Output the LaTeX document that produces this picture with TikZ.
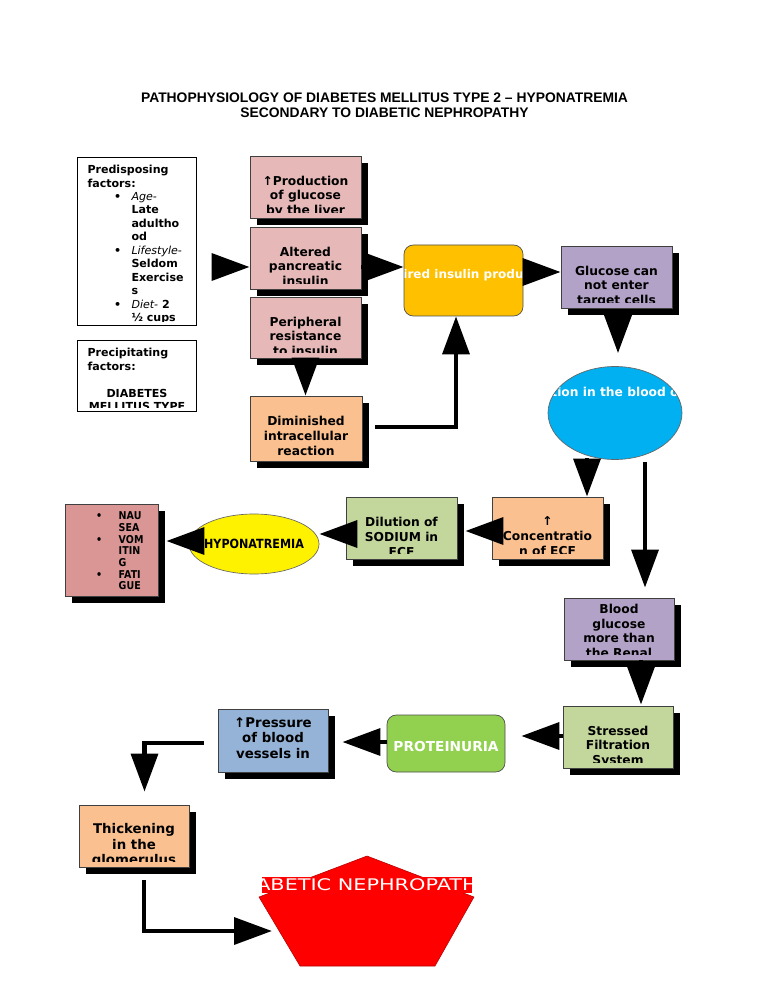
\documentclass[tikz,border=0pt]{standalone}
\usepackage{fontspec}
\setmainfont{DejaVu Sans}
\newfontfamily\titlefont{Liberation Sans}
\newfontfamily\narrowfont{DejaVu Sans}[FakeStretch=0.88]
\newfontfamily\widefont{DejaVu Sans}[FakeStretch=1.3]
\usetikzlibrary{arrows.meta, positioning, calc, shadows, shapes.geometric}

\definecolor{pinkbox}{HTML}{E6B9B8}
\definecolor{rosebox}{HTML}{DA9694}
\definecolor{peachbox}{HTML}{FAC090}
\definecolor{lilacbox}{HTML}{B3A2C7}
\definecolor{olivebox}{HTML}{C3D69B}
\definecolor{bluebox}{HTML}{95B3D7}
\definecolor{amber}{HTML}{FFC000}
\definecolor{skyblue}{HTML}{00B0F0}
\definecolor{limegreen}{HTML}{92D050}

\newcommand{\boxfnt}{\bfseries\fontsize{9.2}{11}\selectfont}
\newcommand{\bigboxfnt}{\bfseries\fontsize{10}{11.6}\selectfont}
\newcommand{\listfnt}{\bfseries\fontsize{8.3}{10.1}\selectfont}

\tikzset{
    plainbox/.style={rectangle, draw=black, line width=0.75pt, inner sep=0pt},
    flowbox/.style={rectangle, draw=black!75, line width=0.6pt, inner sep=0pt,
        minimum width=83.25pt, minimum height=46.5pt,
        drop shadow={shadow xshift=5.6pt, shadow yshift=-5.6pt, opacity=1, fill=black}},
    inlabel/.style={rectangle, inner sep=0pt, minimum width=0pt, minimum height=0pt},
    % text is cut a little above the lower border, as in a text frame
    toptext/.style n args={3}{path picture={
        \clip ([yshift=4pt]path picture bounding box.south west) rectangle (path picture bounding box.north east);
        \node[inlabel, align=center, anchor=north, font=#3] at ([yshift=#1]path picture bounding box.north) {#2};}},
    midtext/.style 2 args={path picture={\node[inlabel, align=center, font=\boxfnt]
        at ([yshift=#1]path picture bounding box.center) {#2};}},
    lefttext/.style n args={3}{path picture={
        \clip ([yshift=3pt]path picture bounding box.south west) rectangle (path picture bounding box.north east);
        \node[inlabel, align=left, anchor=north west, font=#3] at ([shift={#1}]path picture bounding box.north west) {#2};}},
    bigarrow/.style={line width=3.4pt, -{Triangle[length=28.5pt, width=20pt]}},
}

\begin{document}
\begin{tikzpicture}[x=0.75pt, y=-0.75pt]
    \useasboundingbox (0, 0) rectangle (768, 994);

    \node[align=center, font=\titlefont\bfseries\fontsize{10.4}{11.3}\selectfont] (title) at (384.5, 105.5)
        {PATHOPHYSIOLOGY OF DIABETES MELLITUS TYPE 2 – HYPONATREMIA\\SECONDARY TO DIABETIC NEPHROPATHY};

    % factors
    \node[plainbox, minimum width=89.25pt, minimum height=126pt, lefttext={(7.5pt,-5pt)}{Predisposing\\factors:\\
        \hspace*{20pt}\makebox[13pt][l]{•}{\mdseries\itshape Age-}\\
        \hspace*{33pt}Late\\ \hspace*{33pt}adultho\\ \hspace*{33pt}od\\
        \hspace*{20pt}\makebox[13pt][l]{•}{\mdseries\itshape Lifestyle-}\\
        \hspace*{33pt}Seldom\\ \hspace*{33pt}Exercise\\ \hspace*{33pt}s\\
        \hspace*{20pt}\makebox[13pt][l]{•}{\mdseries\itshape Diet-} 2\\
        \hspace*{33pt}½ cups}{\listfnt}] (predisposing) at (136.5, 242) {};
    \node[plainbox, minimum width=89.25pt, minimum height=52.5pt, lefttext={(7.5pt,-5pt)}{Precipitating\\factors:\\[10.3pt]
        \makebox[74.25pt][c]{DIABETES}\\ \makebox[74.25pt][c]{MELLITUS TYPE}}{\listfnt}] (precipitating) at (136.5, 376) {};

    % first column
    \node[flowbox, fill=pinkbox, toptext={-14.6pt}{↑Production\\of glucose\\by the liver}{\boxfnt}] (liver) at (305.5, 187) {};
    \node[flowbox, fill=pinkbox, toptext={-14.6pt}{Altered\\pancreatic\\insulin}{\boxfnt}] (pancreas) at (305.5, 258) {};
    \node[flowbox, fill=pinkbox, minimum height=45.75pt, toptext={-14.6pt}{Peripheral\\resistance\\to insulin}{\boxfnt}] (resistance) at (305.5, 327.5) {};
    \node[flowbox, fill=peachbox, minimum width=84pt, minimum height=48.75pt, toptext={-15.2pt}{Diminished\\intracellular\\reaction}{\boxfnt}] (intracell) at (306, 428.5) {};

    \node[rectangle, rounded corners=7pt, draw=black!70, line width=0.5pt, fill=amber, inner sep=0pt,
        minimum width=89.25pt, minimum height=53.25pt,
        midtext={4pt}{\color{white}\fontsize{9}{11}\selectfont ired insulin produ}] (impaired) at (463.5, 280.5) {};
    \node[flowbox, fill=lilacbox, toptext={-14.6pt}{Glucose can\\not enter\\target cells}{\boxfnt}] (cells) at (616.5, 277) {};
    \node[ellipse, draw=black!60, line width=0.5pt, fill=skyblue, inner sep=0pt, minimum width=100.5pt, minimum height=69.75pt,
        midtext={15.75pt}{\color{white}\fontsize{9.2}{11}\selectfont tion in the blood o}] (blood_level) at (615, 413) {};

    % middle row
    \node[flowbox, fill=peachbox, toptext={-14.6pt}{↑\\Concentratio\\n of ECF}{\boxfnt}] (concentration) at (547.5, 528) {};
    \node[flowbox, fill=olivebox, toptext={-15.2pt}{Dilution of\\SODIUM in\\ECF}{\boxfnt}] (dilution) at (401.5, 528) {};
    \node[ellipse, draw=black!60, line width=0.5pt, fill=yellow, inner sep=0pt, minimum width=97.5pt, minimum height=45pt,
        midtext={0pt}{\narrowfont\fontsize{9.5}{11}\selectfont HYPONATREMIA}] (hyponatremia) at (254, 544) {};
    \node[flowbox, fill=rosebox, minimum width=69.75pt, minimum height=69pt, lefttext={(23pt,-5.6pt)}{
        \makebox[17pt][l]{•}NAU\\ \hspace*{17pt}SEA\\
        \makebox[17pt][l]{•}VOM\\ \hspace*{17pt}ITIN\\ \hspace*{17pt}G\\
        \makebox[17pt][l]{•}FATI\\ \hspace*{17pt}GUE}{\narrowfont\bfseries\fontsize{8.1}{8.75}\selectfont}] (symptoms) at (111.5, 550) {};

    % kidney column
    \node[flowbox, fill=lilacbox, minimum width=82.5pt, toptext={-4.4pt}{Blood\\glucose\\more than\\the Renal}{\boxfnt}] (renal) at (619, 629) {};
    \node[flowbox, fill=olivebox, minimum width=82.5pt, toptext={-14.6pt}{Stressed\\Filtration\\System}{\boxfnt}] (stressed) at (618, 737) {};
    \node[rectangle, rounded corners=7pt, draw=black!70, line width=0.5pt, fill=limegreen, inner sep=0pt,
        minimum width=88.5pt, minimum height=42.75pt,
        midtext={-2.6pt}{\color{white}\fontsize{10.3}{12}\selectfont PROTEINURIA}] (proteinuria) at (446, 743.5) {};
    \node[flowbox, fill=bluebox, minimum width=82.5pt, minimum height=47.25pt,
        toptext={-6.2pt}{↑Pressure\\of blood\\vessels in}{\bigboxfnt}] (pressure) at (273, 740.5) {};
    \node[flowbox, fill=peachbox, minimum width=82.5pt,
        toptext={-13.5pt}{Thickening\\in the\\glomerulus}{\bigboxfnt}] (thickening) at (134, 836) {};

    % pentagon
    \coordinate (nephro_top) at (367, 856);
    \coordinate (nephro_right) at (474, 897);
    \coordinate (nephro_br) at (435, 966);
    \coordinate (nephro_bl) at (300, 966);
    \coordinate (nephro_left) at (259, 897);
    \coordinate (nephro_tip) at (272, 931);
    \filldraw[fill=red, draw=red!70!black, line width=0.4pt] (nephro_top) -- (nephro_right) -- (nephro_br) -- (nephro_bl) -- (nephro_left) -- cycle;
    \node[rectangle, fill=red, inner sep=0pt, minimum width=158pt, minimum height=12pt,
        midtext={0pt}{\color{white}\widefont\mdseries\fontsize{12}{14}\selectfont ABETIC NEPHROPATH}] (nephro) at (367, 885) {};

    % connectors
    \draw[bigarrow] ($(predisposing.east |- pancreas.west)+(15, 9)$) -- ($(pancreas.west)+(0, 9)$);
    \draw[bigarrow] ($(pancreas.east)+(0, 9)$) -- ($(impaired.west |- pancreas.east)+(0, 9)$);
    \draw[bigarrow] (resistance.south) -- (resistance.south |- intracell.north);
    \draw[bigarrow] ($(intracell.east)+(13, -1.5)$) -| ($(impaired.south)+(-7.5, 0)$);
    \draw[bigarrow] ($(impaired.east)+(0, -8.5)$) -- ($(cells.west)+(0, -5)$);
    \draw[bigarrow] ($(cells.south)+(1.5, 7)$) -- ($(blood_level.north)+(3, -13)$);
    \draw[bigarrow] ($(blood_level.south)+(-28, -2)$) -- ($(concentration.north)+(39.5, 0)$);
    \draw[bigarrow] ($(blood_level.south)+(30, 2)$) -- ($(renal.north)+(26, -10)$);
    \draw[bigarrow] ($(concentration.west)+(11, 3)$) -- ($(dilution.east)+(8, 3)$);
    \draw[bigarrow] ($(dilution.west)+(10, 6)$) -- ($(hyponatremia.east)+(0, -10)$);
    \draw[bigarrow] ($(hyponatremia.west)+(15, -3)$) -- ($(symptoms.east)+(8, -9)$);
    \draw[bigarrow] ($(renal.south)+(22, 0)$) -- ($(stressed.north)+(23, -1)$);
    \draw[bigarrow] ($(stressed.west)+(0, -1)$) -- ($(proteinuria.east)+(16, -7.5)$);
    \draw[bigarrow] ($(proteinuria.west)+(0, -1.5)$) -- ($(pressure.east)+(14, 1.5)$);
    \draw[bigarrow] ($(pressure.west)+(-14, 2.5)$) -| ($(thickening.north)+(10.5, -13)$);
    \draw[bigarrow] ($(thickening.south)+(10, 13)$) |- (nephro_tip);
\end{tikzpicture}
\end{document}
